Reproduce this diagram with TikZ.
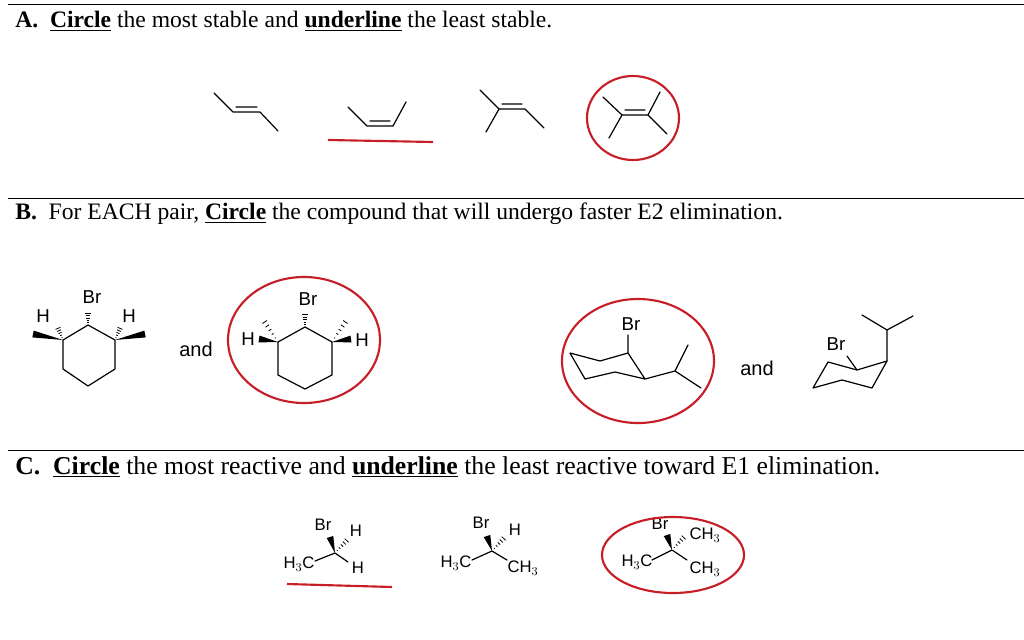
\documentclass[tikz,border=0pt]{standalone}
\usepackage{fontspec}
\setmainfont{Liberation Serif}
\newfontfamily\chemf{Liberation Sans}
\usetikzlibrary{calc}
\tikzset{
 bd/.style={line width=0.9pt,line cap=round,line join=round},
 redc/.style={draw=myred,line width=1.6pt},
 lbl/.style={font=\chemf\fontsize{14}{15}\selectfont,inner sep=0pt},
 lblc/.style={font=\chemf\fontsize{12.5}{13}\selectfont,inner sep=0pt},
 hd/.style={font=\fontsize{17.7}{20}\selectfont,anchor=west,inner sep=0pt},
}
\definecolor{myred}{RGB}{200,30,40}
\newcommand\wdg[2]{\fill ($(#1)$) -- ($(#2)!2.6pt!90:(#1)$) -- ($(#2)!2.6pt!-90:(#1)$) -- cycle;}
\newcommand\hsh[2]{\foreach \k in {1,...,5}{\draw[line width=0.6pt] ($(#1)!\k/6!(#2)!{\k*0.4pt}!90:(#2)$) -- ($(#1)!\k/6!(#2)!{\k*0.4pt}!-90:(#2)$);}}
\begin{document}
\begin{tikzpicture}[x=0.75pt,y=-0.75pt]
\useasboundingbox (0,0) rectangle (1024,639);
\draw[line width=0.6pt] (8,4) -- (1024,4) (8,198) -- (1024,198) (8,450) -- (1024,450);
\node[hd] (ta) at (15,21) {\textbf{A.}\ \ \underline{\textbf{Circle}} the most stable and \underline{\textbf{underline}} the least stable.};
\node[hd] (tb) at (15,214) {\textbf{B.}\ \ For EACH pair, \underline{\textbf{Circle}} the compound that will undergo faster E2 elimination.};
\node[hd,font=\fontsize{19.3}{22}\selectfont] (tc) at (15,467) {\textbf{C.}\ \ \underline{\textbf{Circle}} the most reactive and \underline{\textbf{underline}} the least reactive toward E1 elimination.};
% A
\draw[bd] (214,93)--(233,112)--(260,112)--(278,131) (236,107)--(257,107);
\draw[bd] (348,107)--(367,126)--(393,126)--(406,102) (370,121)--(390,121);
\draw[redc] (328,140)--(433,142);
\draw[bd] (480,90)--(499,109)--(525,109)--(544,128) (499,109)--(486,132) (502,104)--(522,104);
\draw[bd] (603,97)--(622,115)--(648,115)--(667,134) (622,115)--(609,138) (648,115)--(660,92) (625,110)--(645,110);
\draw[redc] (633,118) ellipse [x radius=46,y radius=42];
% B left
\draw[bd] (88,325)--(115,340)--(115,369)--(88,386)--(63,369)--(63,340)--cycle;
\coordinate (a1) at (63,340); \coordinate (a2) at (88,325); \coordinate (a3) at (115,340);
\coordinate (w1) at (33,334); \coordinate (w3) at (145,334);
\coordinate (h1) at (57,326); \coordinate (h2) at (88,311); \coordinate (h3) at (121,326);
\wdg{a1}{w1} \wdg{a3}{w3} \hsh{a1}{h1} \hsh{a2}{h2} \hsh{a3}{h3}
\node[lbl] (br1) at (92,297) {Br};
\node[lbl] (hl1) at (43,316) {H};
\node[lbl] (hr1) at (129,316) {H};
\node[lbl,font=\chemf\fontsize{15}{16}\selectfont] (and1) at (196,349) {and};
% B right
\draw[bd] (305,327)--(332,342)--(332,375)--(305,389)--(278,375)--(278,342)--cycle;
\coordinate (b1) at (278,342); \coordinate (b2) at (305,327); \coordinate (b3) at (332,342);
\coordinate (x1) at (259,339); \coordinate (x3) at (351,339);
\coordinate (y1) at (262,318); \coordinate (y2) at (305,312); \coordinate (y3) at (348,318);
\wdg{b1}{x1} \wdg{b3}{x3} \hsh{b1}{y1} \hsh{b2}{y2} \hsh{b3}{y3}
\node[lbl] (br2) at (308,299) {Br};
\node[lbl] (hl2) at (248,339) {H};
\node[lbl] (hr2) at (362,340) {H};
\draw[redc] (304,340) ellipse [x radius=76,y radius=63];
% B chairs
\draw[bd] (570,353)--(600,361)--(628,353)--(645,379)--(615,372)--(585,379)--cycle;
\draw[bd] (628,353)--(628,335) (645,379)--(675,371)--(688,345) (675,371)--(701,388);
\node[lbl] (br3) at (631,324) {Br};
\draw[redc] (638,361) ellipse [x radius=76,y radius=62];
\node[lbl,font=\chemf\fontsize{15}{16}\selectfont] (and2) at (757,368) {and};
\draw[bd] (813,388)--(828,362)--(857,370)--(887,361)--(872,388)--(842,380)--cycle;
\draw[bd] (857,370)--(847,356) (887,361)--(887,330)--(862,315) (887,330)--(913,316);
\node[lbl] (br4) at (836,344) {Br};
% C
\coordinate (c1) at (335,553); \coordinate (c1b) at (330,537); \coordinate (c1h) at (349,538);
\wdg{c1}{c1b} \hsh{c1}{c1h}
\draw[bd] (c1)--(315,561) (c1)--(348,562);
\node[lblc] (brc1) at (323,525) {Br};
\node[lblc] (hc1) at (356,531) {H};
\node[lblc] (mc1) at (299,564) {H$_3$C};
\node[lblc] (hc1b) at (358,568) {H};
\draw[redc] (287,584)--(392,587);
\coordinate (c2) at (492,551); \coordinate (c2b) at (487,536); \coordinate (c2h) at (506,536);
\wdg{c2}{c2b} \hsh{c2}{c2h}
\draw[bd] (c2)--(472,560) (c2)--(507,560);
\node[lblc] (brc2) at (481,523) {Br};
\node[lblc] (hc2) at (515,530) {H};
\node[lblc] (mc2) at (456,563) {H$_3$C};
\node[lblc] (mc2b) at (523,568) {CH$_3$};
\coordinate (c3) at (672,550); \coordinate (c3b) at (667,535); \coordinate (c3h) at (686,535);
\wdg{c3}{c3b} \hsh{c3}{c3h}
\draw[bd] (c3)--(652,560) (c3)--(687,560);
\node[lblc] (brc3) at (660,524) {Br};
\node[lblc] (mc3a) at (705,535) {CH$_3$};
\node[lblc] (mc3) at (637,562) {H$_3$C};
\node[lblc] (mc3b) at (705,569) {CH$_3$};
\draw[redc] (673,555) ellipse [x radius=71,y radius=38];
\end{tikzpicture}
\end{document}
